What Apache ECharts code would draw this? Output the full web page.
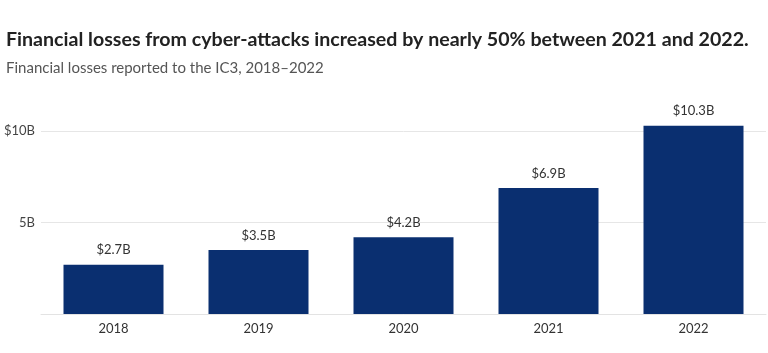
<!DOCTYPE html>
<html>
<head>
<meta charset="utf-8">
<script src="https://cdn.jsdelivr.net/npm/echarts@6/dist/echarts.min.js"></script>
<style>
  html, body { margin: 0; padding: 0; background: #fff; }
  #container { width: 768px; height: 353px; }
</style>
</head>
<body>
<div id="container"></div>
<script>
// data (billions of dollars)
var years = ['2018', '2019', '2020', '2021', '2022']
var losses = [2.7, 3.5, 4.2, 6.9, 10.3]
var yTicks = [0, 5, 10]

var titleText = 'Financial losses from cyber-attacks increased by nearly 50% between 2021 and 2022.'
var subText = 'Financial losses reported to the IC3, 2018\u20132022'

var yLabel = function (v) {
    if (v === 0) return ''
    if (v === 10) return '$10B'
    return v + 'B'
}

var chart = echarts.init(document.getElementById('container'))

var option = {
    animation: false,
    textStyle: { fontFamily: 'Lato' },
    title: {
        text: titleText,
        subtext: subText,
        left: 1,
        top: 25,
        itemGap: 11,
        textStyle: { fontFamily: 'Lato', fontWeight: 'bold', fontSize: 19.6, color: '#222' },
        subtextStyle: { fontFamily: 'Lato', fontSize: 15, color: '#555' }
    },
    grid: { left: 41, right: 2, top: 113, bottom: 39 },
    xAxis: {
        type: 'category',
        data: years,
        axisTick: { show: false },
        axisLine: { lineStyle: { color: '#e3e3e3' } },
        axisLabel: { color: '#333', fontSize: 13, margin: 8 }
    },
    yAxis: {
        type: 'value',
        min: 0,
        max: 11,
        interval: 5,
        axisLabel: {
            color: '#444', fontSize: 13, margin: 6,
            showMaxLabel: false,
            formatter: function (v) {
                return yTicks.indexOf(v) >= 0 ? yLabel(v) : ''
            }
        },
        splitLine: { showMaxLine: false, lineStyle: { color: '#e6e6e6' } }
    },
    series: [{
        type: 'bar',
        data: losses,
        barWidth: 100,
        itemStyle: { color: '#0a2f70' },
        label: {
            show: true,
            position: 'top',
            distance: 8,
            color: '#333',
            fontSize: 13,
            formatter: function (p) { return '$' + p.value.toFixed(1) + 'B' }
        }
    }]
}

chart.setOption(option)
</script>
</body>
</html>
